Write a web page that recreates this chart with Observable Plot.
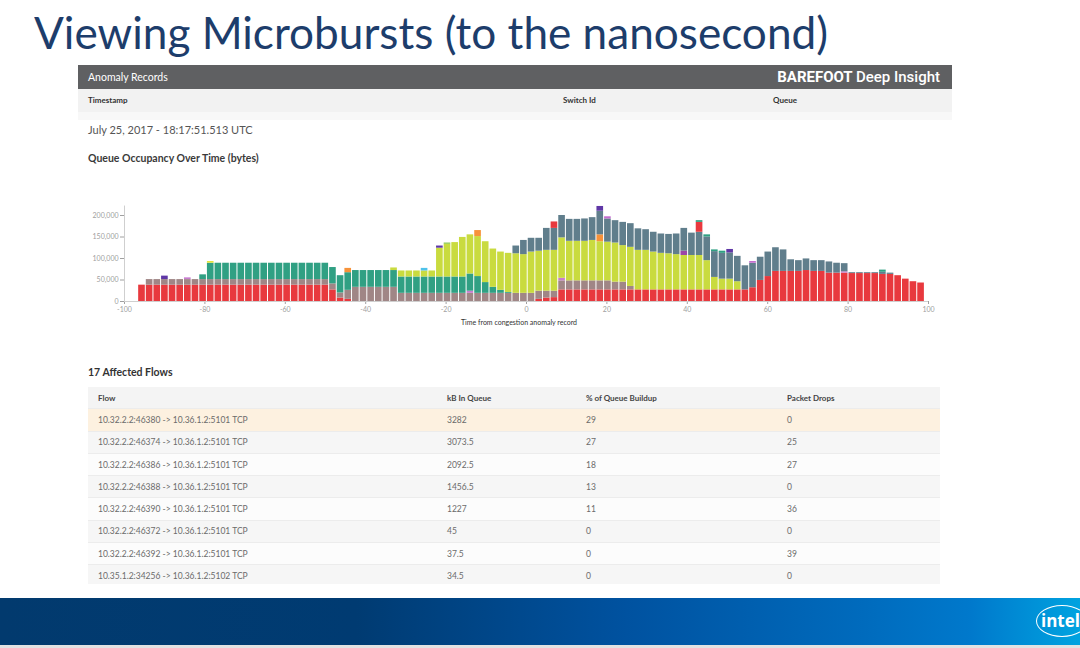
<!DOCTYPE html>
<html><head><meta charset="utf-8">
<script src="https://cdn.jsdelivr.net/npm/d3@7"></script>
<script src="https://cdn.jsdelivr.net/npm/@observablehq/plot@0.6"></script>
<style>
html,body{margin:0;padding:0;}
body{width:1080px;height:648px;overflow:hidden;background:#fff;position:relative;font-family:Lato,"Open Sans",sans-serif;}
.abs{position:absolute;white-space:nowrap;}
#title{left:34px;top:6px;font-size:44px;color:#1d3d6b;font-weight:400;font-family:Lato,"Open Sans",sans-serif;transform-origin:0 0;}
#hdr{left:78px;top:65px;width:874px;height:24px;background:#5f6062;}
#hdr .l{left:10px;top:0;line-height:24px;font-size:10.5px;color:#fff;}
#hdr .r{right:12px;top:0;line-height:24px;font-size:15px;color:#fff;font-family:Roboto,sans-serif;font-weight:700;}
#hdr .r span{font-weight:500;}
#row1{left:78px;top:89px;width:874px;height:23px;background:#f2f2f2;}
#row1 div{top:0;line-height:23px;font-size:8px;font-weight:700;color:#333;}
#row2{left:78px;top:112px;width:874px;height:8px;background:#f8f8f8;}
#ts{left:88px;top:123px;font-size:11px;color:#555;}
#ct{left:88px;top:152px;font-size:10.5px;font-weight:700;color:#3a3a3a;}
#chart{left:80px;top:200px;}
#xl{left:419px;width:200px;text-align:center;top:318px;font-size:7px;color:#333;}
#af{left:88px;top:366px;font-size:10.5px;font-weight:700;color:#333;}
#tbl{left:88px;top:387px;width:852px;height:197px;overflow:hidden;background:#f7f7f7;}
#tbl table{border-collapse:collapse;width:852px;table-layout:fixed;}
#tbl td,#tbl th{height:21.3px;padding:0 0 0 10px;text-align:left;font-size:8.5px;line-height:10px;color:#6b6b6b;border-bottom:1px solid #ececec;overflow:hidden;}
#tbl th{font-size:8px;font-weight:700;color:#444;background:#f4f4f4;}
#tbl tr.hl td{background:#fdf1e0;}
#tbl tr.g td{background:#f6f6f6;}
#tbl tr.w td{background:#fcfcfc;}
#band{left:0;top:598px;width:1080px;height:47px;background:linear-gradient(90deg,#023a6e 0%,#003b72 33%,#0052a0 58%,#006bbd 80%,#0079cc 90%,#00a3e0 100%);}
#strip{left:0;top:645px;width:1080px;height:3px;background:#e2e2e2;}
#intel{left:1036px;top:605px;width:52px;height:32px;border:1.5px solid #fff;border-radius:50%;color:#fff;font-family:"Open Sans",sans-serif;font-weight:700;font-size:17px;line-height:30px;padding-left:4px;box-sizing:border-box;}
</style></head><body>
<div id="title" class="abs">Viewing Microbursts (to the nanosecond)</div>
<div id="hdr" class="abs"><div class="abs l">Anomaly Records</div><div class="abs r">BAREFOOT <span>Deep Insight</span></div></div>
<div id="row1" class="abs"><div class="abs" style="left:10px">Timestamp</div><div class="abs" style="left:485px">Switch Id</div><div class="abs" style="left:695px">Queue</div></div>
<div id="row2" class="abs"></div>
<div id="ts" class="abs">July 25, 2017 - 18:17:51.513 UTC</div>
<div id="ct" class="abs">Queue Occupancy Over Time (bytes)</div>
<div id="chart" class="abs"></div>
<div id="xl" class="abs">Time from congestion anomaly record</div>
<div id="af" class="abs">17 Affected Flows</div>
<div id="tbl" class="abs"></div>
<div id="band" class="abs"></div>
<div id="strip" class="abs"></div>
<div id="intel" class="abs">intel</div>
<script>
// ---- chart data (values in kB, one entry per bar, 103 bars) ----
const tStart = -96.6, tStep = 1.9;
const red = [38,38,38,38,38,38,38,38,38,38, 38,38,38,38,38,38,38,38,38,38, 38,38,38,38,38,27,8,5,0,0,
  0,0,0,0,0,0,0,0,0,0, 0,0,0,0,0,0,0,0,0,0, 0,0,5,8,9,27,27,27,27,27,
  27,27,27,27,27,27,27,27,27,27, 27,27,27,27,27,27,27,27,27,27, 32,49,58,70,70,70,70,72,70,70,
  66,66,66,65,65,65,65,63,63,60, 52,46,43];
const mauve = [0,13,13,13,13,13,13,13,13,13, 13,13,13,13,13,13,13,13,13,13, 13,13,13,13,13,14,12,21,33,33,
  33,33,33,33,19,19,19,19,19,19, 19,19,19,19,19,19,19,19,19,19, 19,19,19,16,15,21,21,21,21,21,
  21,21,18,18,8,0,0,0,0,0, 0,0,0,0,0,0,0,0,0,0, 0,0,0,0,0,0,0,0,0,0, 0,0,0,0,0,0,0,0,0,0, 0,0,0];
const teal = [0,0,0,0,0,0,0,0,11,38, 38,38,38,38,38,38,38,38,38,38, 38,38,38,38,38,38,40,41,39,39,
  39,39,39,39,38,38,38,38,38,38, 38,38,38,40,39,25,14,7,2,0, 0,0,0,0,0,0,0,0,0,0,
  0,0,0,0,0,0,0,0,0,0, 0,0,0,0,0,0,0,0,0,0, 0,0,0,0,0,0,0,0,0,0, 0,0,0,0,0,0,0,0,0,0, 0,0,0];
const lime = [0,0,0,0,0,0,0,0,0,0, 0,0,0,0,0,0,0,0,0,0, 0,0,0,0,0,0,0,0,0,0,
  0,0,0,6,14,14,14,14,14,67, 76,80,92,91,93,95,89,89,91,92, 90,96,93,95,95,94,92,92,92,94,
  91,90,91,85,91,92,92,88,85,84, 82,80,80,80,68,29,25,25,19,0, 0,0,0,0,0,0,0,0,0,0, 0,0,0,0,0,0,0,0,0,0, 0,0,0];
const slate = [0,0,0,0,0,0,0,0,0,0, 0,0,0,0,0,0,0,0,0,0, 0,0,0,0,0,0,0,0,0,0,
  0,0,0,0,0,0,0,0,0,0, 0,0,0,0,0,0,0,0,0,18, 33,32,30,51,51,52,51,51,52,53,
  55,54,52,54,55,50,48,46,45,45, 48,53,52,54,55,60,60,61,59,56, 57,54,57,55,50,27,25,27,25,25,
  26,23,19,2,2,2,2,5,3,0, 0,0,0];
// small flows: [bar number (1-based), kB]
const pinkLow = [[7,4],[44,5],[56,6],[93,3]];
const orange = [[28,10],[45,14],[61,16]];
const violet = [[72,10]];
const red2 = [[55,15],[74,23]];
const teal2 = [[74,4],[75,5],[76,4],[77,5],[98,5]];
const purple = [[4,8],[40,5],[61,11],[78,8]];
const magenta = [[62,5],[81,4]];
const lightBlue = [[38,6]];
const yellow = [[10,4]];
const lightGreen = [[41,3]];

const xTicks = [-100,-80,-60,-40,-20,0,20,40,60,80,100];
const yTicks = [0,50000,100000,150000,200000];

// stack order, bottom to top
const seriesNames = ["red","mauve","pinkLow","teal","lime","orange","lightGreen","violet","slate","red2","teal2","purple","magenta","lightBlue","yellow"];
const seriesColors = ["#e8393e","#a08686","#c77ccf","#30a083","#c9db3f","#f7923a","#8cc84b","#9b46a8","#607e8c","#e8393e","#2fa083","#5f37a6","#c46ccf","#4fc2ea","#e4e43e"];
const dense = {red, mauve, teal, lime, slate};
const sparse = {pinkLow, orange, lightGreen, violet, red2, teal2, purple, magenta, lightBlue, yellow};
const nBars = red.length;
const rows = [];
for (const s of seriesNames) {
  const vals = dense[s] ? dense[s] : (() => { const a = new Array(nBars).fill(0); for (const [b, v] of sparse[s]) a[b - 1] = v; return a; })();
  vals.forEach((v, i) => rows.push({s, x1: tStart + i * tStep, x2: tStart + (i + 1) * tStep, v: v * 1000}));
}

const chart = Plot.plot({
  width: 860, height: 140,
  marginLeft: 44, marginRight: 12, marginTop: 15, marginBottom: 39,
  style: {fontFamily: "Lato, sans-serif", fontSize: "7px", color: "#a0a0a0", background: "transparent", overflow: "visible"},
  x: {domain: [-100, 100], ticks: xTicks, tickFormat: d => String(d), tickSize: 3, tickPadding: 3, label: null},
  y: {domain: [0, 200000], ticks: yTicks, tickFormat: d3.format(","), tickSize: 4, tickPadding: 2, label: null},
  color: {domain: seriesNames, range: seriesColors},
  marks: [
    Plot.rectY(rows, {x1: "x1", x2: "x2", y: "v", fill: "s", insetLeft: 0.5, insetRight: 0.5}),
    Plot.ruleY([0], {stroke: "#cfcfcf"}),
    Plot.ruleX([-100], {y1: 0, y2: 222000, stroke: "#cfcfcf"})
  ]
});
document.getElementById("chart").appendChild(chart);

// ---- table data ----
const flowCols = ["Flow", "kB In Queue", "% of Queue Buildup", "Packet Drops"];
const flows = ["10.32.2.2:46380 -> 10.36.1.2:5101 TCP","10.32.2.2:46374 -> 10.36.1.2:5101 TCP","10.32.2.2:46386 -> 10.36.1.2:5101 TCP","10.32.2.2:46388 -> 10.36.1.2:5101 TCP","10.32.2.2:46390 -> 10.36.1.2:5101 TCP","10.32.2.2:46372 -> 10.36.1.2:5101 TCP","10.32.2.2:46392 -> 10.36.1.2:5101 TCP","10.35.1.2:34256 -> 10.36.1.2:5102 TCP"];
const kbInQueue = ["3282","3073.5","2092.5","1456.5","1227","45","37.5","34.5"];
const pctBuildup = ["29","27","18","13","11","0","0","0"];
const packetDrops = ["0","25","27","0","36","0","39","0"];
const colW = [349, 139, 201, 163];
let h = "<table><colgroup>" + colW.map(w => `<col style="width:${w}px">`).join("") + "</colgroup><tr>" + flowCols.map(c => `<th>${c}</th>`).join("") + "</tr>";
flows.forEach((f, i) => {
  const cls = i === 0 ? "hl" : (i % 2 ? "g" : "w");
  h += `<tr class="${cls}"><td>${f}</td><td>${kbInQueue[i]}</td><td>${pctBuildup[i]}</td><td>${packetDrops[i]}</td></tr>`;
});
h += "</table>";
document.getElementById("tbl").innerHTML = h;

// fit title width
const t = document.getElementById("title");
const w = t.getBoundingClientRect().width;
t.style.transform = `scaleX(${794 / w})`;
</script>
</body></html>
